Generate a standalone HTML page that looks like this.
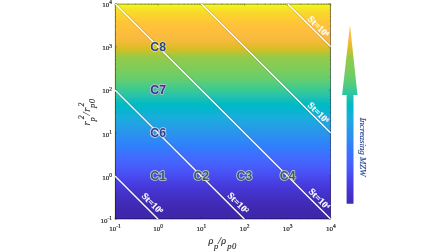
<!DOCTYPE html><html><head><meta charset="utf-8"><style>html,body{margin:0;padding:0;background:#fff}svg{display:block}.ts{font-family:"Liberation Serif",serif}.tb{font-family:"Liberation Serif",serif;font-weight:bold}.ta{font-family:"Liberation Sans",sans-serif;font-weight:bold}</style></head><body><svg width="448" height="252" viewBox="0 0 448 252">
<defs><linearGradient id="pg" x1="0" y1="0" x2="0" y2="1"><stop offset="0.0000" stop-color="#f9fb15"/><stop offset="0.0104" stop-color="#f6f31d"/><stop offset="0.0208" stop-color="#f5e725"/><stop offset="0.0312" stop-color="#f6e028"/><stop offset="0.0417" stop-color="#f8d82c"/><stop offset="0.0521" stop-color="#fbd32e"/><stop offset="0.0625" stop-color="#fccf30"/><stop offset="0.0729" stop-color="#fdcb33"/><stop offset="0.0833" stop-color="#fec735"/><stop offset="0.0938" stop-color="#fec438"/><stop offset="0.1042" stop-color="#fec239"/><stop offset="0.1146" stop-color="#fec03b"/><stop offset="0.1250" stop-color="#febe3c"/><stop offset="0.1354" stop-color="#fcbd3d"/><stop offset="0.1458" stop-color="#fbbc3d"/><stop offset="0.1562" stop-color="#f9bb3d"/><stop offset="0.1667" stop-color="#f7ba3c"/><stop offset="0.1771" stop-color="#f1ba37"/><stop offset="0.1875" stop-color="#ebba31"/><stop offset="0.1979" stop-color="#e3bc2c"/><stop offset="0.2083" stop-color="#d6be28"/><stop offset="0.2188" stop-color="#c9c129"/><stop offset="0.2292" stop-color="#b6c533"/><stop offset="0.2396" stop-color="#a1c840"/><stop offset="0.2500" stop-color="#94ca4a"/><stop offset="0.2604" stop-color="#90ca4d"/><stop offset="0.2708" stop-color="#8bcb51"/><stop offset="0.2812" stop-color="#87cb54"/><stop offset="0.2917" stop-color="#83cc57"/><stop offset="0.3021" stop-color="#7ecc5b"/><stop offset="0.3125" stop-color="#79cc5f"/><stop offset="0.3229" stop-color="#73cd63"/><stop offset="0.3333" stop-color="#6ecd67"/><stop offset="0.3438" stop-color="#69cd6b"/><stop offset="0.3542" stop-color="#61cd72"/><stop offset="0.3646" stop-color="#58cc7a"/><stop offset="0.3750" stop-color="#4ecc81"/><stop offset="0.3854" stop-color="#46cb88"/><stop offset="0.3958" stop-color="#3eca8f"/><stop offset="0.4062" stop-color="#36c899"/><stop offset="0.4167" stop-color="#2fc5a2"/><stop offset="0.4271" stop-color="#28c3ab"/><stop offset="0.4375" stop-color="#1dc0b3"/><stop offset="0.4479" stop-color="#10beba"/><stop offset="0.4583" stop-color="#08bcbf"/><stop offset="0.4688" stop-color="#02bac4"/><stop offset="0.4792" stop-color="#01b8c8"/><stop offset="0.4896" stop-color="#04b6cd"/><stop offset="0.5000" stop-color="#09b4d1"/><stop offset="0.5104" stop-color="#11b1d6"/><stop offset="0.5208" stop-color="#16afda"/><stop offset="0.5312" stop-color="#1aacdd"/><stop offset="0.5417" stop-color="#1da8e0"/><stop offset="0.5521" stop-color="#20a5e2"/><stop offset="0.5625" stop-color="#22a2e4"/><stop offset="0.5729" stop-color="#249ee6"/><stop offset="0.5833" stop-color="#269ae8"/><stop offset="0.5938" stop-color="#2797eb"/><stop offset="0.6042" stop-color="#2a93ed"/><stop offset="0.6146" stop-color="#2c90f0"/><stop offset="0.6250" stop-color="#2d8cf3"/><stop offset="0.6354" stop-color="#2d89f6"/><stop offset="0.6458" stop-color="#2e85f8"/><stop offset="0.6562" stop-color="#2f81fa"/><stop offset="0.6667" stop-color="#317dfc"/><stop offset="0.6771" stop-color="#3579fd"/><stop offset="0.6875" stop-color="#3975fe"/><stop offset="0.6979" stop-color="#3d70ff"/><stop offset="0.7083" stop-color="#406dfe"/><stop offset="0.7188" stop-color="#426afe"/><stop offset="0.7292" stop-color="#4366fd"/><stop offset="0.7396" stop-color="#4563fd"/><stop offset="0.7500" stop-color="#465ffb"/><stop offset="0.7604" stop-color="#475bf9"/><stop offset="0.7708" stop-color="#4757f7"/><stop offset="0.7812" stop-color="#4853f5"/><stop offset="0.7917" stop-color="#484ff2"/><stop offset="0.8021" stop-color="#484bef"/><stop offset="0.8125" stop-color="#4746ea"/><stop offset="0.8229" stop-color="#4742e6"/><stop offset="0.8333" stop-color="#473ee1"/><stop offset="0.8438" stop-color="#463bdc"/><stop offset="0.8542" stop-color="#4538d7"/><stop offset="0.8646" stop-color="#4536d3"/><stop offset="0.8750" stop-color="#4434ce"/><stop offset="0.8854" stop-color="#4332c8"/><stop offset="0.8958" stop-color="#4230c3"/><stop offset="0.9062" stop-color="#422ebf"/><stop offset="0.9167" stop-color="#412dbc"/><stop offset="0.9271" stop-color="#402bb8"/><stop offset="0.9375" stop-color="#402ab5"/><stop offset="0.9479" stop-color="#3f29b1"/><stop offset="0.9583" stop-color="#3f28af"/><stop offset="0.9688" stop-color="#3f28ad"/><stop offset="0.9792" stop-color="#3e27ac"/><stop offset="0.9896" stop-color="#3e27aa"/><stop offset="1.0000" stop-color="#3e26a8"/></linearGradient>
<linearGradient id="ag" gradientUnits="userSpaceOnUse" x1="0" y1="4" x2="0" y2="219"><stop offset="0.0000" stop-color="#f9fb15"/><stop offset="0.0104" stop-color="#f6f31d"/><stop offset="0.0208" stop-color="#f5e725"/><stop offset="0.0312" stop-color="#f6e028"/><stop offset="0.0417" stop-color="#f8d82c"/><stop offset="0.0521" stop-color="#fbd32e"/><stop offset="0.0625" stop-color="#fccf30"/><stop offset="0.0729" stop-color="#fdcb33"/><stop offset="0.0833" stop-color="#fec735"/><stop offset="0.0938" stop-color="#fec438"/><stop offset="0.1042" stop-color="#fec239"/><stop offset="0.1146" stop-color="#fec03b"/><stop offset="0.1250" stop-color="#febe3c"/><stop offset="0.1354" stop-color="#fcbd3d"/><stop offset="0.1458" stop-color="#fbbc3d"/><stop offset="0.1562" stop-color="#f9bb3d"/><stop offset="0.1667" stop-color="#f7ba3c"/><stop offset="0.1771" stop-color="#f1ba37"/><stop offset="0.1875" stop-color="#ebba31"/><stop offset="0.1979" stop-color="#e3bc2c"/><stop offset="0.2083" stop-color="#d6be28"/><stop offset="0.2188" stop-color="#c9c129"/><stop offset="0.2292" stop-color="#b6c533"/><stop offset="0.2396" stop-color="#a1c840"/><stop offset="0.2500" stop-color="#94ca4a"/><stop offset="0.2604" stop-color="#90ca4d"/><stop offset="0.2708" stop-color="#8bcb51"/><stop offset="0.2812" stop-color="#87cb54"/><stop offset="0.2917" stop-color="#83cc57"/><stop offset="0.3021" stop-color="#7ecc5b"/><stop offset="0.3125" stop-color="#79cc5f"/><stop offset="0.3229" stop-color="#73cd63"/><stop offset="0.3333" stop-color="#6ecd67"/><stop offset="0.3438" stop-color="#69cd6b"/><stop offset="0.3542" stop-color="#61cd72"/><stop offset="0.3646" stop-color="#58cc7a"/><stop offset="0.3750" stop-color="#4ecc81"/><stop offset="0.3854" stop-color="#46cb88"/><stop offset="0.3958" stop-color="#3eca8f"/><stop offset="0.4062" stop-color="#36c899"/><stop offset="0.4167" stop-color="#2fc5a2"/><stop offset="0.4271" stop-color="#28c3ab"/><stop offset="0.4375" stop-color="#1dc0b3"/><stop offset="0.4479" stop-color="#10beba"/><stop offset="0.4583" stop-color="#08bcbf"/><stop offset="0.4688" stop-color="#02bac4"/><stop offset="0.4792" stop-color="#01b8c8"/><stop offset="0.4896" stop-color="#04b6cd"/><stop offset="0.5000" stop-color="#09b4d1"/><stop offset="0.5104" stop-color="#11b1d6"/><stop offset="0.5208" stop-color="#16afda"/><stop offset="0.5312" stop-color="#1aacdd"/><stop offset="0.5417" stop-color="#1da8e0"/><stop offset="0.5521" stop-color="#20a5e2"/><stop offset="0.5625" stop-color="#22a2e4"/><stop offset="0.5729" stop-color="#249ee6"/><stop offset="0.5833" stop-color="#269ae8"/><stop offset="0.5938" stop-color="#2797eb"/><stop offset="0.6042" stop-color="#2a93ed"/><stop offset="0.6146" stop-color="#2c90f0"/><stop offset="0.6250" stop-color="#2d8cf3"/><stop offset="0.6354" stop-color="#2d89f6"/><stop offset="0.6458" stop-color="#2e85f8"/><stop offset="0.6562" stop-color="#2f81fa"/><stop offset="0.6667" stop-color="#317dfc"/><stop offset="0.6771" stop-color="#3579fd"/><stop offset="0.6875" stop-color="#3975fe"/><stop offset="0.6979" stop-color="#3d70ff"/><stop offset="0.7083" stop-color="#406dfe"/><stop offset="0.7188" stop-color="#426afe"/><stop offset="0.7292" stop-color="#4366fd"/><stop offset="0.7396" stop-color="#4563fd"/><stop offset="0.7500" stop-color="#465ffb"/><stop offset="0.7604" stop-color="#475bf9"/><stop offset="0.7708" stop-color="#4757f7"/><stop offset="0.7812" stop-color="#4853f5"/><stop offset="0.7917" stop-color="#484ff2"/><stop offset="0.8021" stop-color="#484bef"/><stop offset="0.8125" stop-color="#4746ea"/><stop offset="0.8229" stop-color="#4742e6"/><stop offset="0.8333" stop-color="#473ee1"/><stop offset="0.8438" stop-color="#463bdc"/><stop offset="0.8542" stop-color="#4538d7"/><stop offset="0.8646" stop-color="#4536d3"/><stop offset="0.8750" stop-color="#4434ce"/><stop offset="0.8854" stop-color="#4332c8"/><stop offset="0.8958" stop-color="#4230c3"/><stop offset="0.9062" stop-color="#422ebf"/><stop offset="0.9167" stop-color="#412dbc"/><stop offset="0.9271" stop-color="#402bb8"/><stop offset="0.9375" stop-color="#402ab5"/><stop offset="0.9479" stop-color="#3f29b1"/><stop offset="0.9583" stop-color="#3f28af"/><stop offset="0.9688" stop-color="#3f28ad"/><stop offset="0.9792" stop-color="#3e27ac"/><stop offset="0.9896" stop-color="#3e27aa"/><stop offset="1.0000" stop-color="#3e26a8"/></linearGradient></defs>
<rect width="448" height="252" fill="#fff"/>
<rect x="115.0" y="3.7" width="215.8" height="215.5" fill="url(#pg)"/>
<rect x="115.4" y="4.1000000000000005" width="215.0" height="214.7" fill="none" stroke="#00002a" stroke-width="0.8" stroke-opacity="0.5"/>
<line x1="114.5" y1="3.7" x2="114.5" y2="219.2" stroke="#efefd2" stroke-width="0.8"/>
<path d="M115.00 219.2v-2.0M115.00 3.7v2.0M115.0 219.20h2.0M330.8 219.20h-2.0M127.99 219.2v-1.0M127.99 3.7v1.0M115.0 206.23h1.0M330.8 206.23h-1.0M135.59 219.2v-1.0M135.59 3.7v1.0M115.0 198.64h1.0M330.8 198.64h-1.0M140.98 219.2v-1.0M140.98 3.7v1.0M115.0 193.25h1.0M330.8 193.25h-1.0M145.17 219.2v-1.0M145.17 3.7v1.0M115.0 189.07h1.0M330.8 189.07h-1.0M148.59 219.2v-1.0M148.59 3.7v1.0M115.0 185.66h1.0M330.8 185.66h-1.0M151.47 219.2v-1.0M151.47 3.7v1.0M115.0 182.78h1.0M330.8 182.78h-1.0M153.98 219.2v-1.0M153.98 3.7v1.0M115.0 180.28h1.0M330.8 180.28h-1.0M156.19 219.2v-1.0M156.19 3.7v1.0M115.0 178.07h1.0M330.8 178.07h-1.0M158.16 219.2v-2.0M158.16 3.7v2.0M115.0 176.10h2.0M330.8 176.10h-2.0M171.15 219.2v-1.0M171.15 3.7v1.0M115.0 163.13h1.0M330.8 163.13h-1.0M178.75 219.2v-1.0M178.75 3.7v1.0M115.0 155.54h1.0M330.8 155.54h-1.0M184.14 219.2v-1.0M184.14 3.7v1.0M115.0 150.15h1.0M330.8 150.15h-1.0M188.33 219.2v-1.0M188.33 3.7v1.0M115.0 145.97h1.0M330.8 145.97h-1.0M191.75 219.2v-1.0M191.75 3.7v1.0M115.0 142.56h1.0M330.8 142.56h-1.0M194.63 219.2v-1.0M194.63 3.7v1.0M115.0 139.68h1.0M330.8 139.68h-1.0M197.14 219.2v-1.0M197.14 3.7v1.0M115.0 137.18h1.0M330.8 137.18h-1.0M199.35 219.2v-1.0M199.35 3.7v1.0M115.0 134.97h1.0M330.8 134.97h-1.0M201.32 219.2v-2.0M201.32 3.7v2.0M115.0 133.00h2.0M330.8 133.00h-2.0M214.31 219.2v-1.0M214.31 3.7v1.0M115.0 120.03h1.0M330.8 120.03h-1.0M221.91 219.2v-1.0M221.91 3.7v1.0M115.0 112.44h1.0M330.8 112.44h-1.0M227.30 219.2v-1.0M227.30 3.7v1.0M115.0 107.05h1.0M330.8 107.05h-1.0M231.49 219.2v-1.0M231.49 3.7v1.0M115.0 102.87h1.0M330.8 102.87h-1.0M234.91 219.2v-1.0M234.91 3.7v1.0M115.0 99.46h1.0M330.8 99.46h-1.0M237.79 219.2v-1.0M237.79 3.7v1.0M115.0 96.58h1.0M330.8 96.58h-1.0M240.30 219.2v-1.0M240.30 3.7v1.0M115.0 94.08h1.0M330.8 94.08h-1.0M242.51 219.2v-1.0M242.51 3.7v1.0M115.0 91.87h1.0M330.8 91.87h-1.0M244.48 219.2v-2.0M244.48 3.7v2.0M115.0 89.90h2.0M330.8 89.90h-2.0M257.47 219.2v-1.0M257.47 3.7v1.0M115.0 76.93h1.0M330.8 76.93h-1.0M265.07 219.2v-1.0M265.07 3.7v1.0M115.0 69.34h1.0M330.8 69.34h-1.0M270.46 219.2v-1.0M270.46 3.7v1.0M115.0 63.95h1.0M330.8 63.95h-1.0M274.65 219.2v-1.0M274.65 3.7v1.0M115.0 59.77h1.0M330.8 59.77h-1.0M278.07 219.2v-1.0M278.07 3.7v1.0M115.0 56.36h1.0M330.8 56.36h-1.0M280.95 219.2v-1.0M280.95 3.7v1.0M115.0 53.48h1.0M330.8 53.48h-1.0M283.46 219.2v-1.0M283.46 3.7v1.0M115.0 50.98h1.0M330.8 50.98h-1.0M285.67 219.2v-1.0M285.67 3.7v1.0M115.0 48.77h1.0M330.8 48.77h-1.0M287.64 219.2v-2.0M287.64 3.7v2.0M115.0 46.80h2.0M330.8 46.80h-2.0M300.63 219.2v-1.0M300.63 3.7v1.0M115.0 33.83h1.0M330.8 33.83h-1.0M308.23 219.2v-1.0M308.23 3.7v1.0M115.0 26.24h1.0M330.8 26.24h-1.0M313.62 219.2v-1.0M313.62 3.7v1.0M115.0 20.85h1.0M330.8 20.85h-1.0M317.81 219.2v-1.0M317.81 3.7v1.0M115.0 16.67h1.0M330.8 16.67h-1.0M321.23 219.2v-1.0M321.23 3.7v1.0M115.0 13.26h1.0M330.8 13.26h-1.0M324.11 219.2v-1.0M324.11 3.7v1.0M115.0 10.38h1.0M330.8 10.38h-1.0M326.62 219.2v-1.0M326.62 3.7v1.0M115.0 7.88h1.0M330.8 7.88h-1.0M328.83 219.2v-1.0M328.83 3.7v1.0M115.0 5.67h1.0M330.8 5.67h-1.0M330.80 219.2v-2.0M330.80 3.7v2.0M115.0 3.70h2.0M330.8 3.70h-2.0" stroke="#222" stroke-width="0.5" stroke-opacity="0.7" fill="none"/>
<clipPath id="cp"><rect x="115.0" y="3.7" width="215.8" height="215.5"/></clipPath><g clip-path="url(#cp)">
<line x1="115.00" y1="176.10" x2="158.16" y2="219.20" stroke="#000" stroke-opacity="0.13" stroke-width="2.8"/>
<line x1="115.00" y1="176.10" x2="158.16" y2="219.20" stroke="#fff" stroke-width="1.4"/>
<line x1="115.00" y1="89.90" x2="244.48" y2="219.20" stroke="#000" stroke-opacity="0.13" stroke-width="2.8"/>
<line x1="115.00" y1="89.90" x2="244.48" y2="219.20" stroke="#fff" stroke-width="1.4"/>
<line x1="115.00" y1="3.70" x2="330.80" y2="219.20" stroke="#000" stroke-opacity="0.13" stroke-width="2.8"/>
<line x1="115.00" y1="3.70" x2="330.80" y2="219.20" stroke="#fff" stroke-width="1.4"/>
<line x1="201.32" y1="3.70" x2="330.80" y2="133.00" stroke="#000" stroke-opacity="0.13" stroke-width="2.8"/>
<line x1="201.32" y1="3.70" x2="330.80" y2="133.00" stroke="#fff" stroke-width="1.4"/>
<line x1="287.64" y1="3.70" x2="330.80" y2="46.80" stroke="#000" stroke-opacity="0.13" stroke-width="2.8"/>
<line x1="287.64" y1="3.70" x2="330.80" y2="46.80" stroke="#fff" stroke-width="1.4"/>
</g>
<text x="112" y="222.70" text-anchor="end" class="ts" font-size="7.1" fill="#262626" stroke="#262626" stroke-width="0.2">10<tspan dy="-2.8" font-size="5.4">-1</tspan></text>
<text x="115.00" y="231.2" text-anchor="middle" class="ts" font-size="7.1" fill="#262626" stroke="#262626" stroke-width="0.2">10<tspan dy="-2.9" font-size="5.4">-1</tspan></text>
<text x="112" y="179.60" text-anchor="end" class="ts" font-size="7.1" fill="#262626" stroke="#262626" stroke-width="0.2">10<tspan dy="-2.8" font-size="5.4">0</tspan></text>
<text x="158.16" y="231.2" text-anchor="middle" class="ts" font-size="7.1" fill="#262626" stroke="#262626" stroke-width="0.2">10<tspan dy="-2.9" font-size="5.4">0</tspan></text>
<text x="112" y="136.50" text-anchor="end" class="ts" font-size="7.1" fill="#262626" stroke="#262626" stroke-width="0.2">10<tspan dy="-2.8" font-size="5.4">1</tspan></text>
<text x="201.32" y="231.2" text-anchor="middle" class="ts" font-size="7.1" fill="#262626" stroke="#262626" stroke-width="0.2">10<tspan dy="-2.9" font-size="5.4">1</tspan></text>
<text x="112" y="93.40" text-anchor="end" class="ts" font-size="7.1" fill="#262626" stroke="#262626" stroke-width="0.2">10<tspan dy="-2.8" font-size="5.4">2</tspan></text>
<text x="244.48" y="231.2" text-anchor="middle" class="ts" font-size="7.1" fill="#262626" stroke="#262626" stroke-width="0.2">10<tspan dy="-2.9" font-size="5.4">2</tspan></text>
<text x="112" y="50.30" text-anchor="end" class="ts" font-size="7.1" fill="#262626" stroke="#262626" stroke-width="0.2">10<tspan dy="-2.8" font-size="5.4">3</tspan></text>
<text x="287.64" y="231.2" text-anchor="middle" class="ts" font-size="7.1" fill="#262626" stroke="#262626" stroke-width="0.2">10<tspan dy="-2.9" font-size="5.4">3</tspan></text>
<text x="112" y="7.20" text-anchor="end" class="ts" font-size="7.1" fill="#262626" stroke="#262626" stroke-width="0.2">10<tspan dy="-2.8" font-size="5.4">4</tspan></text>
<text x="330.80" y="231.2" text-anchor="middle" class="ts" font-size="7.1" fill="#262626" stroke="#262626" stroke-width="0.2">10<tspan dy="-2.9" font-size="5.4">4</tspan></text>
<text class="ts" font-style="italic" fill="#2e2e2e" stroke="#2e2e2e" stroke-width="0.14"><tspan x="208.6" y="244.2" font-size="10.2">ρ</tspan><tspan x="213.9" y="249.4" font-size="8.6">p</tspan><tspan x="218.0" y="244.2" font-size="10.8">/</tspan><tspan x="221.2" y="244.2" font-size="10.2">ρ</tspan><tspan x="227.2" y="249.4" font-size="8.6" letter-spacing="0.5">p0</tspan></text>
<g transform="translate(0 126) rotate(-90)"><text class="ts" font-style="italic" fill="#2e2e2e" stroke="#2e2e2e" stroke-width="0.14"><tspan x="0.4" y="90.3" font-size="10.8">r</tspan><tspan x="6.7" y="84.0" font-size="7.6">2</tspan><tspan x="4.4" y="95.4" font-size="8.6">p</tspan><tspan x="10.6" y="90.3" font-size="10.8">/</tspan><tspan x="14.3" y="90.3" font-size="10.8">r</tspan><tspan x="19.6" y="84.0" font-size="7.6">2</tspan><tspan x="18.0" y="95.4" font-size="8.6" letter-spacing="0.5">p0</tspan></text></g>
<text transform="translate(158.16 51.05) scale(0.92 1)" x="0" y="0" text-anchor="middle" class="ta" font-size="13.4" fill="#1a48b0" stroke="#ffe24d" stroke-width="1.6" paint-order="stroke" stroke-linejoin="round">C8</text>
<text transform="translate(158.16 94.15) scale(0.92 1)" x="0" y="0" text-anchor="middle" class="ta" font-size="13.4" fill="#2b3a9c" stroke="#d4bcd6" stroke-width="1.6" paint-order="stroke" stroke-linejoin="round">C7</text>
<text transform="translate(158.16 137.25) scale(0.92 1)" x="0" y="0" text-anchor="middle" class="ta" font-size="13.4" fill="#2b4590" stroke="#d8dcec" stroke-width="1.6" paint-order="stroke" stroke-linejoin="round">C6</text>
<text transform="translate(158.16 180.35) scale(0.92 1)" x="0" y="0" text-anchor="middle" class="ta" font-size="13.4" fill="#2f6080" stroke="#d2d0b8" stroke-width="1.6" paint-order="stroke" stroke-linejoin="round">C1</text>
<text transform="translate(201.32 180.35) scale(0.92 1)" x="0" y="0" text-anchor="middle" class="ta" font-size="13.4" fill="#2f6080" stroke="#d2d0b8" stroke-width="1.6" paint-order="stroke" stroke-linejoin="round">C2</text>
<text transform="translate(244.48 180.35) scale(0.92 1)" x="0" y="0" text-anchor="middle" class="ta" font-size="13.4" fill="#2f6080" stroke="#d2d0b8" stroke-width="1.6" paint-order="stroke" stroke-linejoin="round">C3</text>
<text transform="translate(287.64 180.35) scale(0.92 1)" x="0" y="0" text-anchor="middle" class="ta" font-size="13.4" fill="#2f6080" stroke="#d2d0b8" stroke-width="1.6" paint-order="stroke" stroke-linejoin="round">C4</text>
<g transform="translate(158.16 219.20) rotate(45)"><text x="-2.4" y="-4.0" text-anchor="end" class="tb" font-size="9.4" fill="#fff" stroke="#fff" stroke-width="0.15">St=10<tspan dy="-2.8" font-size="5.2">0</tspan></text></g>
<g transform="translate(244.48 219.20) rotate(45)"><text x="-3.1" y="-3.9" text-anchor="end" class="tb" font-size="9.4" fill="#fff" stroke="#fff" stroke-width="0.15">St=10<tspan dy="-2.8" font-size="5.2">2</tspan></text></g>
<g transform="translate(330.80 219.20) rotate(45)"><text x="-9.6" y="-3.2" text-anchor="end" class="tb" font-size="9.4" fill="#fff" stroke="#fff" stroke-width="0.15">St=10<tspan dy="-2.8" font-size="5.2">4</tspan></text></g>
<g transform="translate(330.80 133.00) rotate(45)"><text x="-10.2" y="-2.6" text-anchor="end" class="tb" font-size="9.4" fill="#fff" stroke="#fff" stroke-width="0.15">St=10<tspan dy="-2.8" font-size="5.2">6</tspan></text></g>
<g transform="translate(330.80 46.80) rotate(45)"><text x="-10.2" y="-2.6" text-anchor="end" class="tb" font-size="9.4" fill="#fff" stroke="#fff" stroke-width="0.15">St=10<tspan dy="-2.8" font-size="5.2">8</tspan></text></g>
<path d="M350 25 L357.5 95.1 L353.5 95.1 L353.5 203.8 L346.6 203.8 L346.6 95.1 L342.1 95.1 Z" fill="url(#ag)"/>
<g transform="translate(360 117.5) rotate(90)"><text x="0" y="0" class="ts" font-style="italic" font-size="9.2" letter-spacing="-0.19" fill="#27489a" stroke="#27489a" stroke-width="0.12">Increasing MZW</text></g>
</svg></body></html>
